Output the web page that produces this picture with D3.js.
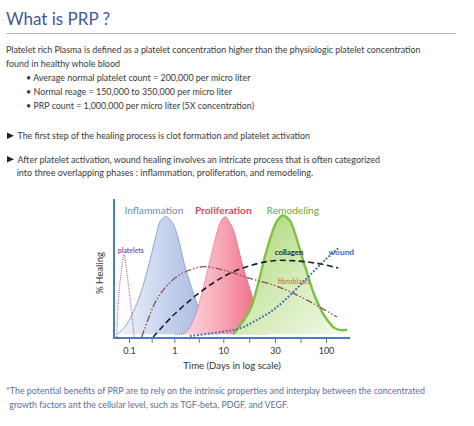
<!DOCTYPE html>
<html><head><meta charset="utf-8">
<script src="https://cdn.jsdelivr.net/npm/d3@7"></script>
<style>
html,body{margin:0;padding:0;background:#fff;}
svg{display:block;}
text{font-family:Lato,"Open Sans",sans-serif;}
</style></head>
<body>
<svg id="c" width="474" height="426"></svg>
<script>
// ---- data (x in tick-index units: 0=0.1, 2=1, 4=10, 6=30, 8=100 days; y = % healing) ----
const tickLabels = ["0.1","","1","","10","","30","","100"];
const tickIndex = [0,1,2,3,4,5,6,7,8];
const phaseNames = ["Inflammation","Proliferation","Remodeling"];

const plateletsX = [-0.54,-0.47,-0.35,-0.22,-0.09,0.09,0.23];
const plateletsY = [0,27,46.5,60,46.5,22,0];

const inflammationX = [-0.54,-0.18,0.41,0.85,1.22,1.37,1.63,1.89,2.10,2.44,2.78,2.98,3.21,3.46,3.78];
const inflammationY = [2,7.5,27,51.3,75.7,84.2,87.8,84.2,75.7,51.3,31.9,22.1,10.9,4.4,2];

const proliferationX = [2.03,2.44,2.78,3.05,3.46,3.73,3.89,4.07,4.23,4.39,4.77,5.16,5.34,5.50,5.73];
const proliferationY = [2,2.9,12.4,27,56.2,75.7,84.2,87.8,84.2,78.1,51.3,27,13.9,5.1,2];

const remodelingX = [4.39,5.03,5.35,5.68,6.08,6.31,6.59,6.78,7.18,7.57,7.96,8.35,8.75,8.82];
const remodelingY = [2,19.7,39.2,63.5,84.7,88.7,84.7,75.7,51.3,29.4,14.8,6.4,5.1,5.8];

const fibroblastsX = [0.56,1.15,1.59,2.10,2.64,3.18,4.0,5.03,5.93,6.59,7.37,8.43];
const fibroblastsY = [0,25,35.8,44.0,48.9,51.3,48.9,42.8,38.0,33.1,25.8,14.6];

const collagenX = [1.07,1.89,2.91,4.0,4.91,5.93,6.85,7.64,8.48];
const collagenY = [0,14.8,30.7,44.0,51.3,55.7,55.5,53.8,50.4];

const woundX = [2.64,4.0,4.65,5.29,5.93,6.66,7.31,7.96,8.48];
const woundY = [0.7,3.9,6.4,12.4,19.7,31.9,44.0,56.2,64.7];

const svg = d3.select("#c");
const defs = svg.append("defs");

// ---- header text ----
svg.append("text").attr("x",6).attr("y",25).attr("font-size",17).attr("fill","#41599a")
  .attr("font-family","'Open Sans',sans-serif").text("What is PRP ?");
svg.append("line").attr("x1",6).attr("x2",456).attr("y1",33.5).attr("y2",33.5)
  .attr("stroke","#b6b9c4").attr("stroke-width",1);

const bodyLines = [
  {t:"Platelet rich Plasma is defined as a platelet concentration higher than the physiologic platelet concentration", x:6, y:52.5, w:414.5},
  {t:"found in healthy whole blood", x:6, y:66.5, w:114},
  {t:"• Average normal platelet count = 200,000 per micro liter", x:26, y:80.5, w:224.5},
  {t:"• Normal reage = 150,000 to 350,000 per micro liter", x:26, y:95, w:206},
  {t:"• PRP count = 1,000,000 per micro liter (5X concentration)", x:26, y:108.5, w:228},
  {t:"The first step of the healing process is clot formation and platelet activation", x:17.5, y:139, w:292.5},
  {t:"After platelet activation, wound healing involves an intricate process that is often categorized", x:17.5, y:162.5, w:362.5},
  {t:"into three overlapping phases : inflammation, proliferation, and remodeling.", x:16.7, y:176, w:296.5}
];
svg.selectAll("text.body").data(bodyLines).enter().append("text").attr("class","body")
  .attr("x",d=>d.x).attr("y",d=>d.y).attr("font-size",9.6).attr("fill","#3a3a3a")
  .attr("textLength",d=>d.w).attr("lengthAdjust","spacingAndGlyphs").text(d=>d.t);
[139,162.5].forEach(yy=>{
  svg.append("path").attr("d",`M7,${yy-6.5} L14,${yy-3.2} L7,${yy}Z`).attr("fill","#222");
});

const footLines = [
  {t:"*The potential benefits of PRP are to rely on the intrinsic properties and interplay between the concentrated", x:6, y:393.5, w:419},
  {t:"growth factors ant the cellular level, such as TGF-beta, PDGF, and VEGF.", x:9.3, y:407.5, w:279}
];
svg.selectAll("text.foot").data(footLines).enter().append("text").attr("class","foot")
  .attr("x",d=>d.x).attr("y",d=>d.y).attr("font-size",9.6).attr("fill","#5d6f9c")
  .attr("textLength",d=>d.w).attr("lengthAdjust","spacingAndGlyphs").text(d=>d.t);

// ---- chart ----
const x = d3.scaleLinear().domain([0,2,4,6,8]).range([129,174.3,223.3,275,326]);
const y = d3.scaleLinear().domain([0,100]).range([337,200]);
const base = 2;

function grad(id, x2, y2, stops){
  const g = defs.append("linearGradient").attr("id",id)
    .attr("x1",0).attr("y1",0).attr("x2",x2).attr("y2",y2);
  stops.forEach(s=>g.append("stop").attr("offset",s[0]).attr("stop-color",s[1]));
}
grad("gInf",1,0,[[0,"#f2f5fb"],[0.45,"#c8d4ee"],[1,"#9fb3de"]]);
grad("gPro",1,0,[[0,"#fde3e8"],[0.45,"#f8aebc"],[1,"#ee5a78"]]);
grad("gRem",1,1,[[0,"#a6d46f"],[0.5,"#d2eab4"],[1,"#f3faeb"]]);

const zip = (a,b)=>a.map((v,i)=>[v,b[i]]);
const area = d3.area().x(d=>x(d[0])).y0(y(base)).y1(d=>y(d[1])).curve(d3.curveCatmullRom);
const line = d3.line().x(d=>x(d[0])).y(d=>y(d[1])).curve(d3.curveCatmullRom);

const phases = [
  {name:"Inflammation", d:zip(inflammationX,inflammationY), fill:"url(#gInf)", stroke:"#93a6cf", sw:1, dash:null},
  {name:"Proliferation", d:zip(proliferationX,proliferationY), fill:"url(#gPro)", stroke:"#d9577a", sw:1, dash:"1,1"},
  {name:"Remodeling", d:zip(remodelingX,remodelingY), fill:"url(#gRem)", stroke:"#7cc243", sw:2.4, dash:null}
];
phases.forEach(p=>{
  svg.append("path").attr("d",area(p.d)).attr("fill",p.fill).attr("stroke","none");
  svg.append("path").attr("d",line(p.d)).attr("fill","none").attr("stroke",p.stroke)
    .attr("stroke-width",p.sw).attr("stroke-dasharray",p.dash);
});

const lines = [
  {d:zip(plateletsX,plateletsY), stroke:"#9a6db4", sw:1.2, dash:"1,1.2"},
  {d:zip(fibroblastsX,fibroblastsY), stroke:"#8a4e52", sw:1.3, dash:"7,2,1.5,2,1.5,2"},
  {d:zip(collagenX,collagenY), stroke:"#1e1e1e", sw:1.6, dash:"6,3.5"},
  {d:zip(woundX,woundY), stroke:"#3d6db5", sw:2, dash:"1.8,1.8"}
];
lines.forEach(l=>{
  svg.append("path").attr("d",line(l.d)).attr("fill","none").attr("stroke",l.stroke)
    .attr("stroke-width",l.sw).attr("stroke-dasharray",l.dash);
});

// labels
const phaseLabelX = [1.1,4.0,6.7];
const phaseColors = ["#6a88c6","#e2455f","#6aa83c"];
phaseNames.forEach((n,i)=>{
  svg.append("text").attr("x",x(phaseLabelX[i])).attr("y",213.5).attr("text-anchor","middle")
    .attr("font-size",10.2).attr("fill",phaseColors[i]).attr("font-weight",i===1?700:400).text(n);
});
svg.append("text").attr("x",x(0.08)).attr("y",253).attr("text-anchor","middle")
  .attr("font-size",6.8).attr("fill","#8a5aa6").attr("font-weight",700).text("platelets");
svg.append("text").attr("x",x(6.55)).attr("y",255).attr("text-anchor","middle")
  .attr("font-size",7.8).attr("fill","#2a2a2a").attr("font-weight",700).text("collagen");
svg.append("text").attr("x",x(6.75)).attr("y",284).attr("text-anchor","middle")
  .attr("font-size",7.2).attr("fill","#a8743e").text("fibroblasts");
svg.append("text").attr("x",x(8.6)).attr("y",254.5).attr("text-anchor","middle")
  .attr("font-size",8.4).attr("fill","#3d6db5").attr("font-weight",700).text("wound");

// axes
const axisColor = "#4a7cc4";
const xAxis = d3.axisBottom(x).tickValues(tickIndex).tickFormat((d,i)=>tickLabels[i])
  .tickSize(5).tickPadding(5);
const gx = svg.append("g").attr("transform","translate(0,338)").call(xAxis);
gx.select(".domain").remove();
gx.selectAll(".tick line").attr("stroke",axisColor).attr("stroke-width",1);
gx.selectAll(".tick text").attr("font-size",9).attr("fill","#333")
  .attr("font-family","Lato,sans-serif");
svg.append("line").attr("x1",113).attr("x2",350).attr("y1",338).attr("y2",338)
  .attr("stroke",axisColor).attr("stroke-width",2);
svg.append("line").attr("x1",114).attr("x2",114).attr("y1",199).attr("y2",339)
  .attr("stroke",axisColor).attr("stroke-width",2);

svg.append("text").attr("x",232).attr("y",368.5).attr("text-anchor","middle")
  .attr("font-size",9.6).attr("fill","#333").text("Time (Days in log scale)");
svg.append("text").attr("transform","translate(103,273) rotate(-90)").attr("text-anchor","middle")
  .attr("font-size",9.6).attr("fill","#333").text("% Healing");
</script>
</body></html>
